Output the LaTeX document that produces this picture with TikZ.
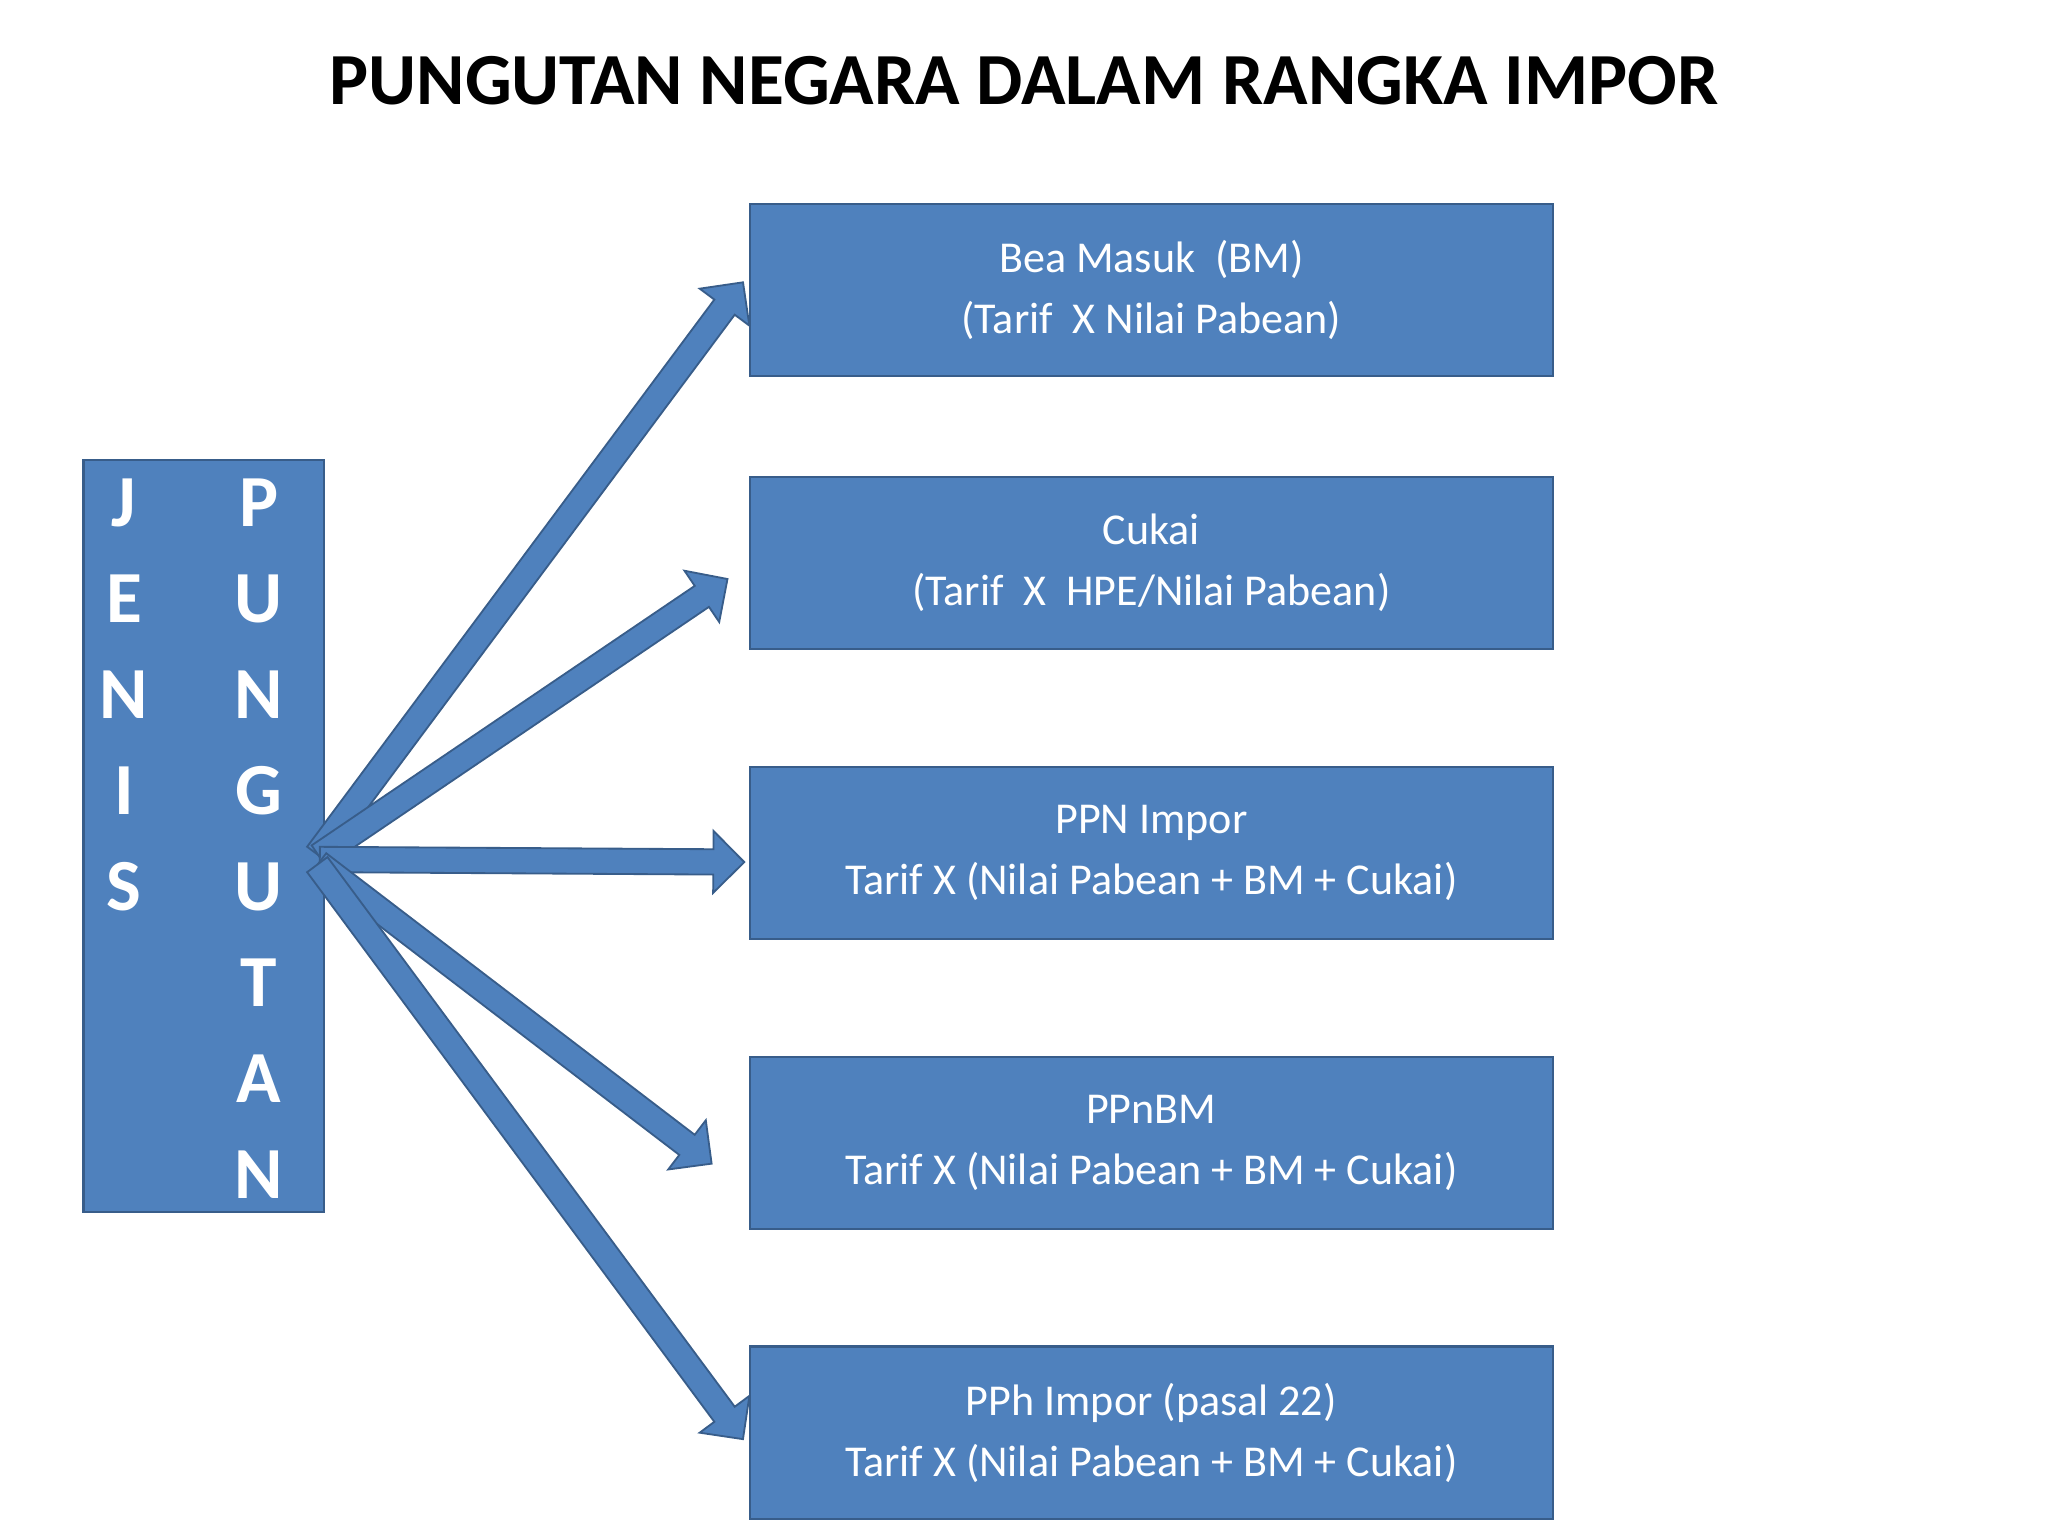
\documentclass[tikz,border=0pt]{standalone}
\usepackage{fontspec}
\setmainfont{Carlito}
\usetikzlibrary{shapes.arrows,calc}
\definecolor{bfill}{HTML}{4F81BD}
\definecolor{bline}{HTML}{385D8A}
\begin{document}
\begin{tikzpicture}[x=0.05cm,y=-0.05cm,
  box/.style={draw=bline,line width=2.5pt,fill=bfill,minimum width=30.75cm,minimum height=6.6cm,text=white,align=center,font=\fontsize{48}{66}\selectfont},
  arr/.style={single arrow,draw=bline,line width=2pt,fill=bfill,inner sep=0pt,text height=0.9cm,text depth=0pt,minimum width=2.3cm,single arrow head extend=0.7cm,single arrow tip angle=90,shape border uses incircle=false},
  let/.style={text=white,font=\fontsize{80}{80}\selectfont\bfseries}]
\useasboundingbox (0,0) rectangle (1568,1176);
\node[font=\fontsize{80}{90}\selectfont\bfseries] (title) at (784,62) {PUNGUTAN NEGARA DALAM RANGKA IMPOR};
\node[box] (b1) at (881.5,222) {Bea Masuk\ \ (BM)\\(Tarif\ \ X Nilai Pabean)};
\node[box] (b2) at (881.5,431) {Cukai\\(Tarif\ \ X\ \ HPE/Nilai Pabean)};
\node[box] (b3) at (881.5,653) {PPN Impor\\Tarif X (Nilai Pabean + BM + Cukai)};
\node[box] (b4) at (881.5,875) {PPnBM\\Tarif X (Nilai Pabean + BM + Cukai)};
\node[box] (b5) at (881.5,1097) {PPh Impor (pasal 22)\\Tarif X (Nilai Pabean + BM + Cukai)};
\node[draw=bline,line width=2.5pt,fill=bfill,minimum width=9.2cm,minimum height=28.8cm] (left) at (156,640) {};
\foreach \c [count=\i] in {J,E,N,I,S} \node[let] (j\i) at (95,{385+(\i-1)*73.5}) {\c};
\foreach \c [count=\i] in {P,U,N,G,U,T,A,N} \node[let] (p\i) at (198,{385+(\i-1)*73.5}) {\c};
\coordinate (o) at (240,658);
\coordinate (e1) at (566,220);
\coordinate (e2) at (553,446);
\coordinate (e3) at (565,660);
\coordinate (e4) at (541,888);
\coordinate (e5) at (566,1098);
\foreach \k in {1,...,5}{
  \path let \p1=($(e\k)-(o)$), \n1={veclen(\x1,\y1)}, \n2={atan2(\y1,\x1)} in
    node[arr,minimum height=\n1,rotate=\n2] (a\k) at ($(o)!0.5!(e\k)$) {};
}
\end{tikzpicture}
\end{document}
